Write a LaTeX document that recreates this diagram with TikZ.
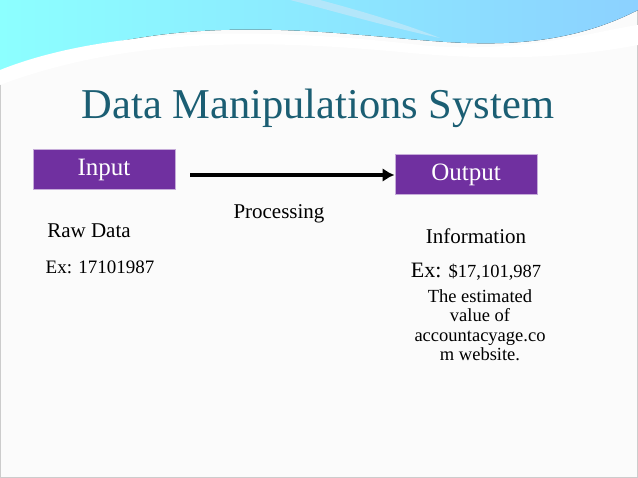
\documentclass[tikz,border=0pt]{standalone}
\usepackage{fontspec}
\usetikzlibrary{arrows.meta}
\setmainfont{Liberation Serif}
\begin{document}
\begin{tikzpicture}[x=1pt,y=-1pt,
  box/.style={fill=boxpurple,draw=boxpurple!40!white,line width=1pt,minimum width=142pt,minimum height=40pt,text=white,font=\fontsize{25}{25}\selectfont,inner sep=0pt},
  txt/.style={font=\fontsize{21}{21}\selectfont,inner sep=0pt},
  sm/.style={font=\fontsize{18.5}{19.5}\selectfont,inner sep=0pt,align=center}]
\definecolor{boxpurple}{HTML}{7030A0}
\definecolor{titleteal}{HTML}{1B5E73}
\useasboundingbox (0,0) rectangle (638,478);
\fill[gray!3] (0,0) rectangle (638,478);
\draw[gray!40] (0.5,0.5) rectangle (637.5,477.5);
% banner
\fill[left color=cyan!45!white,right color=cyan!60!blue!45!white] (0,0) -- (638,0) -- (638,10) .. controls (560,50) and (480,45) .. (420,40) .. controls (300,30) and (150,10) .. (0,80) -- cycle;
\fill[white] (0,70) .. controls (100,30) and (250,25) .. (420,45) .. controls (520,55) and (600,30) .. (638,25) -- (638,45) .. controls (560,60) and (480,60) .. (400,52) .. controls (250,38) and (120,40) .. (0,85) -- cycle;
\fill[white!70!cyan] (290,0) .. controls (330,10) and (380,25) .. (440,38) .. controls (400,22) and (350,8) .. (320,0) -- cycle;
\node[font=\fontsize{42.5}{42.5}\selectfont,text=titleteal] (title) at (318,108) {Data Manipulations System};
\node[box] (in) at (104,170) {Input};
\node[box] (out) at (466,175) {Output};
\draw[line width=3.5pt,-{Latex[length=12pt,width=14pt]}] (190,175) -- (out.west);
\node[txt] (proc) at (279,214) {Processing};
\node[txt] (raw) at (89,231) {Raw Data};
\node[sm,font=\fontsize{19}{19}\selectfont] (ex1) at (100,267) {Ex: 17101987};
\node[txt] (info) at (476,236) {Information};
\node[inner sep=0pt] (ex2) at (476,272) {\fontsize{22}{22}\selectfont Ex: \fontsize{18.5}{18.5}\selectfont\$17,101,987};
\node[sm,anchor=north] (desc) at (480,289) {The estimated\\value of\\accountacyage.co\\m website.};
\end{tikzpicture}
\end{document}
